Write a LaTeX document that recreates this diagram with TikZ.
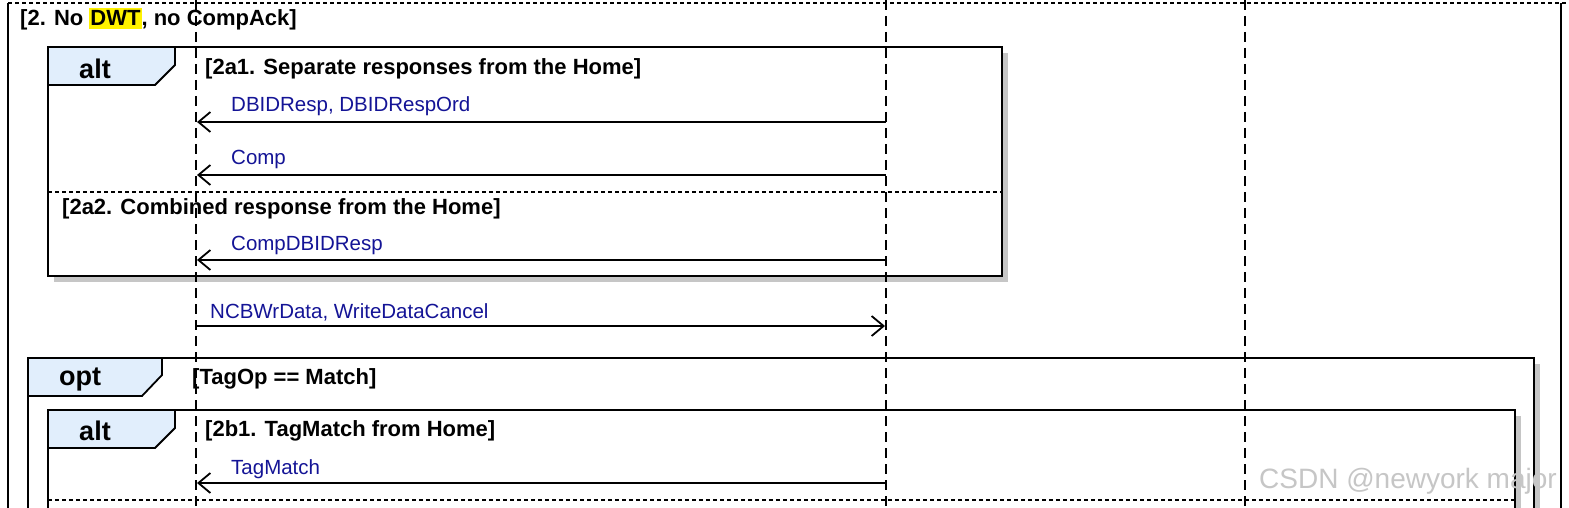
\documentclass[tikz,border=0pt]{standalone}
\usepackage{fontspec}
\setmainfont{Liberation Sans}
\usetikzlibrary{shadows,arrows.meta}
\definecolor{msg}{RGB}{20,20,150}
\definecolor{tabfill}{RGB}{225,238,252}
\begin{document}
\begin{tikzpicture}[x=1pt,y=-1pt,
  frame/.style={draw,line width=2.2pt,fill=white,drop shadow={shadow xshift=6pt,shadow yshift=-6pt,opacity=0.45,fill=gray}},
  tab/.style={draw,line width=1.8pt,fill=tabfill},
  life/.style={line width=2.8pt,dash pattern=on 10pt off 6pt},
  sep/.style={line width=1.4pt,dash pattern=on 4pt off 3pt},
  cond/.style={anchor=west,font=\bfseries\fontsize{22}{26}\selectfont,inner sep=0pt},
  kw/.style={anchor=center,font=\bfseries\fontsize{27}{30}\selectfont,inner sep=0pt},
  lbl/.style={anchor=west,text=msg,font=\fontsize{20.5}{24}\selectfont,inner sep=0pt},
  msgarr/.style={line width=1.8pt,-{Straight Barb[length=12pt,width=20pt,line width=1.8pt]}}]
\useasboundingbox (0,0) rectangle (1569,508);
% outer frame
\draw[sep] (8,3) -- (1566,3);
\draw[line width=1.8pt] (8,3) -- (8,508);
\draw[line width=1.8pt] (1561,3) -- (1561,508);
\node[cond] (t2) at (20,19) {[2. No \colorbox{yellow}{\kern-2pt DWT\kern-2pt}, no CompAck]};
% top alt
\draw[frame] (48,47) rectangle (1002,276);
\draw[tab] (48,47) -- (175,47) -- (175,65) -- (155,85) -- (48,85) -- cycle;
\node[kw] (alt1) at (95,69) {alt};
\draw[sep] (48,192) -- (1002,192);
% opt
\draw[frame] (28,358) rectangle (1534,530);
\draw[tab] (28,358) -- (162,358) -- (162,375) -- (142,396) -- (28,396) -- cycle;
\node[kw] (opt) at (80,379) {opt};
% inner alt
\draw[frame] (48,410) rectangle (1515,530);
\draw[tab] (48,410) -- (175,410) -- (175,428) -- (155,448) -- (48,448) -- cycle;
\node[kw] (alt2) at (95,431) {alt};
\draw[sep] (48,500) -- (1515,500);
% lifelines
\coordinate (A0) at (196,0); \coordinate (A1) at (196,508);
\coordinate (B0) at (886,0); \coordinate (B1) at (886,508);
\coordinate (C0) at (1245,0); \coordinate (C1) at (1245,508);
\draw[life] (A0) -- (A1);
\draw[life] (B0) -- (B1);
\draw[life] (C0) -- (C1);
% conditions
\node[cond] (c1) at (205,69) {[2a1. Separate responses from the Home]};
\node[cond] (c2) at (62,209) {[2a2. Combined response from the Home]};
\node[cond] (c3) at (192,379) {[TagOp == Match]};
\node[cond] (c4) at (205,431) {[2b1. TagMatch from Home]};
% messages
\coordinate (m1b) at (886,122); \coordinate (m1a) at (197,122);
\draw[msgarr] (m1b) -- (m1a);
\node[lbl] (l1) at (231,106) {DBIDResp, DBIDRespOrd};
\coordinate (m2b) at (886,175); \coordinate (m2a) at (197,175);
\draw[msgarr] (m2b) -- (m2a);
\node[lbl] (l2) at (231,159) {Comp};
\coordinate (m3b) at (886,260); \coordinate (m3a) at (197,260);
\draw[msgarr] (m3b) -- (m3a);
\node[lbl] (l3) at (231,245) {CompDBIDResp};
\coordinate (m4a) at (196,326); \coordinate (m4b) at (885,326);
\draw[msgarr] (m4a) -- (m4b);
\node[lbl] (l4) at (210,312) {NCBWrData, WriteDataCancel};
\coordinate (m5b) at (886,483); \coordinate (m5a) at (197,483);
\draw[msgarr] (m5b) -- (m5a);
\node[lbl] (l5) at (231,469) {TagMatch};
\node[anchor=west,text=gray!45,font=\fontsize{28}{32}\selectfont,inner sep=0pt] (wm) at (1259,481) {CSDN @newyork major};
\end{tikzpicture}
\end{document}
